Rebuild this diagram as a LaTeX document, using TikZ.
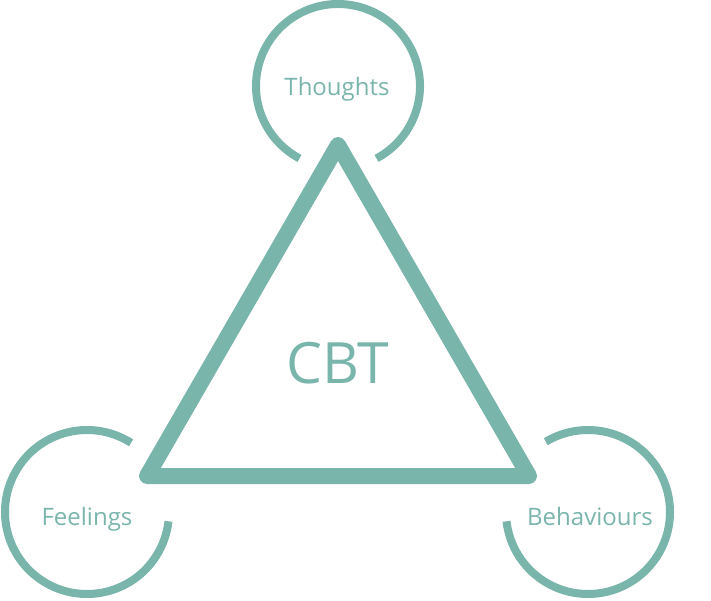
\documentclass[tikz,border=0pt]{standalone}
\usepackage{fontspec}
\setmainfont{Open Sans}
\usetikzlibrary{positioning}
\definecolor{cbtteal}{RGB}{122,181,172}

\begin{document}
\begin{tikzpicture}[x=1pt,y=1pt,
    ring/.style={draw=cbtteal, line width=8pt},
    tag/.style={text=cbtteal, font=\fontsize{24}{28}\selectfont}]
  \useasboundingbox (0,0) rectangle (711,600);

  % Triangle corners
  \coordinate (apex) at (338,455);
  \coordinate (lcorner) at (147,124);
  \coordinate (rcorner) at (529,124);
  \draw[cbtteal, line width=16pt, line join=round] (apex) -- (lcorner) -- (rcorner) -- cycle;
  \node[text=cbtteal, font=\fontsize{57}{60}\selectfont] (cbt) at (338,237) {CBT};

  % Thoughts ring (gap at the bottom)
  \coordinate (tc) at (338,514);
  \node[tag] (thoughts) at (337,511) {Thoughts};
  \draw[ring] (tc) ++(-62:82) arc[start angle=-62, end angle=242, radius=82];

  % Feelings ring (gap upper right)
  \coordinate (fc) at (87,88);
  \node[tag] (feelings) at (87,81) {Feelings};
  \draw[ring] (fc) ++(57.5:82) arc[start angle=57.5, end angle=353.5, radius=82];

  % Behaviours ring (gap upper left)
  \coordinate (bc) at (588,88);
  \node[tag] (behaviours) at (590,84) {Behaviours};
  \draw[ring] (bc) ++(186.5:82) arc[start angle=186.5, end angle=481, radius=82];
\end{tikzpicture}
\end{document}
